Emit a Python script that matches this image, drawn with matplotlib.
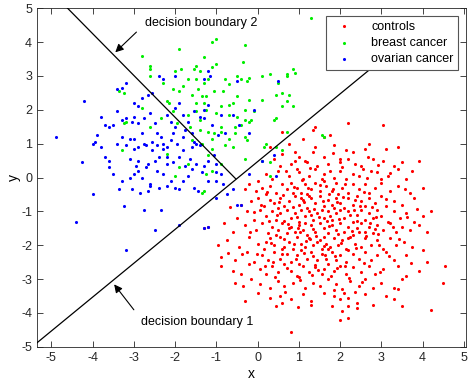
import matplotlib.pyplot as plt

plt.rcParams['font.family'] = ['Liberation Sans', 'DejaVu Sans']
plt.rcParams['font.size'] = 9
plt.rcParams['axes.unicode_minus'] = False

# points (x, y)
controls = [
    (2.2, 1.6), (3.05, 1.55), (1.4, 1.5), (1.35, 1.4), (1.75, 1.25), (0.6, 1.35), (1.1, 1.15), (1.6, 1.2),
    (2.7, 1.0), (2.6, 0.85), (2.15, 0.8), (2.0, 0.55), (1.4, 0.9), (1.35, 0.75), (0.75, 1.0), (0.9, 0.75),
    (0.6, 0.7), (3.1, 0.85), (3.4, 0.9), (2.3, 0.75), (1.85, 0.95), (0.3, 0.9),
    (0.9, 0.5), (1.15, 0.5), (1.2, 0.45), (1.6, 0.6), (1.7, 0.4), (2.0, 0.45), (2.2, 0.55), (2.5, 0.35),
    (2.8, 0.55), (3.05, 0.5), (3.5, 0.45), (3.9, 0.5), (0.55, 0.35), (0.8, 0.4), (1.45, 0.35), (2.35, 0.4),
    (3.3, 0.35), (2.05, 0.3), (1.0, 0.6), (0.4, 0.55),
    (0.2, 0.1), (0.5, 0.2), (0.75, 0.05), (1.0, 0.15), (1.25, 0.05), (1.4, 0.25), (1.6, 0.1), (1.85, 0.0),
    (2.0, 0.2), (2.3, 0.1), (2.55, 0.25), (2.65, 0.0), (2.9, 0.15), (3.15, 0.05), (3.4, 0.25), (3.75, 0.2),
    (3.6, -0.05), (1.1, -0.05), (0.95, 0.25), (1.55, -0.05), (2.15, -0.05), (2.45, 0.05), (2.75, 0.2),
    (3.0, -0.05), (1.75, 0.2), (4.0, -0.3), (0.0, -0.1), (-0.2, -0.2), (0.35, -0.05),
    (-0.3, -0.35), (-0.05, -0.4), (0.1, -0.3), (0.3, -0.25), (0.45, -0.45), (0.6, -0.2), (0.7, -0.35),
    (0.8, -0.15), (0.95, -0.3), (1.05, -0.45), (1.15, -0.2), (1.3, -0.35), (1.4, -0.15), (1.5, -0.4),
    (1.65, -0.25), (1.8, -0.4), (1.9, -0.15), (2.05, -0.3), (2.2, -0.45), (2.3, -0.2), (2.45, -0.35),
    (2.6, -0.2), (2.7, -0.45), (2.85, -0.3), (3.0, -0.15), (3.2, -0.4), (3.4, -0.25), (3.7, -0.45),
    (0.2, -0.5), (1.2, -0.5), (1.95, -0.5), (0.85, -0.45), (1.6, -0.1),
    (-0.4, -0.8), (-0.15, -0.7), (0.0, -0.6), (0.15, -0.85), (0.3, -0.65), (0.4, -0.75), (0.55, -0.6),
    (0.65, -0.85), (0.75, -0.7), (0.9, -0.55), (1.0, -0.8), (1.1, -0.65), (1.2, -0.9), (1.3, -0.6),
    (1.4, -0.75), (1.5, -0.55), (1.6, -0.85), (1.7, -0.65), (1.8, -0.8), (1.9, -0.6), (2.0, -0.75),
    (2.1, -0.9), (2.2, -0.6), (2.3, -0.8), (2.4, -0.55), (2.5, -0.7), (2.6, -0.85), (2.7, -0.6),
    (2.85, -0.75), (3.0, -0.55), (3.1, -0.85), (3.3, -0.7), (3.5, -0.8), (3.8, -0.6), (0.5, -0.9),
    (1.25, -0.55), (1.85, -0.9), (2.35, -0.65), (1.05, -0.6), (0.85, -0.88),
    (-0.5, -1.2), (-0.25, -1.0), (-0.1, -1.25), (0.05, -0.95), (0.2, -1.15), (0.35, -1.0), (0.45, -1.25),
    (0.55, -1.05), (0.7, -0.95), (0.8, -1.2), (0.9, -1.05), (1.0, -1.3), (1.05, -0.95), (1.15, -1.15),
    (1.25, -1.0), (1.35, -1.25), (1.45, -1.05), (1.55, -0.95), (1.6, -1.2), (1.7, -1.0), (1.8, -1.25),
    (1.9, -1.05), (2.0, -0.95), (2.1, -1.2), (2.2, -1.0), (2.3, -1.3), (2.4, -1.1), (2.5, -0.95),
    (2.6, -1.25), (2.7, -1.05), (2.8, -1.2), (2.9, -0.95), (3.0, -1.15), (3.15, -1.3), (3.3, -1.0),
    (3.45, -1.2), (3.6, -1.05), (3.8, -1.3), (4.2, -1.0), (4.0, -1.15), (0.65, -1.28), (1.75, -1.15),
    (2.25, -1.12), (1.3, -1.12), (0.95, -1.18),
    (-1.3, -1.5), (-1.2, -1.45), (-0.6, -1.6), (-0.3, -1.4), (-0.05, -1.55), (0.1, -1.35), (0.25, -1.65),
    (0.35, -1.45), (0.5, -1.55), (0.6, -1.35), (0.7, -1.65), (0.8, -1.45), (0.9, -1.6), (1.0, -1.4),
    (1.1, -1.55), (1.2, -1.7), (1.3, -1.4), (1.4, -1.6), (1.5, -1.35), (1.6, -1.5), (1.7, -1.65),
    (1.8, -1.4), (1.9, -1.55), (2.0, -1.35), (2.1, -1.6), (2.2, -1.45), (2.3, -1.7), (2.4, -1.5),
    (2.5, -1.35), (2.6, -1.6), (2.7, -1.45), (2.8, -1.65), (2.9, -1.4), (3.05, -1.55), (3.2, -1.35),
    (3.35, -1.6), (3.5, -1.45), (3.7, -1.55), (3.9, -1.4), (4.1, -1.6), (0.45, -1.7), (1.35, -1.52),
    (1.95, -1.68), (2.45, -1.62), (1.15, -1.35), (0.75, -1.5), (2.85, -1.52),
    (-0.95, -2.0), (-0.75, -1.85), (-0.45, -2.05), (-0.2, -1.75), (0.0, -1.95), (0.15, -2.1), (0.3, -1.8),
    (0.4, -2.0), (0.55, -1.75), (0.65, -2.05), (0.75, -1.9), (0.85, -2.1), (0.95, -1.75), (1.05, -1.95),
    (1.15, -2.05), (1.25, -1.8), (1.35, -2.0), (1.45, -1.9), (1.55, -2.1), (1.6, -1.75), (1.65, -1.95),
    (1.75, -2.05), (1.85, -1.8), (1.95, -2.0), (2.05, -1.85), (2.15, -2.1), (2.25, -1.75), (2.35, -1.95),
    (2.5, -2.05), (2.6, -1.8), (2.75, -2.0), (2.9, -1.85), (3.05, -2.1), (3.2, -1.8), (3.35, -2.0),
    (3.55, -1.9), (3.75, -2.05), (1.5, -1.85), (1.7, -2.1), (0.2, -1.9), (2.95, -2.0),
    (-0.9, -2.35), (-0.55, -2.45), (-0.25, -2.2), (-0.1, -2.5), (0.1, -2.3), (0.25, -2.45), (0.4, -2.2),
    (0.55, -2.4), (0.7, -2.25), (0.8, -2.5), (0.95, -2.3), (1.05, -2.15), (1.2, -2.4), (1.3, -2.2),
    (1.45, -2.45), (1.55, -2.25), (1.65, -2.4), (1.8, -2.2), (1.9, -2.45), (2.0, -2.3), (2.15, -2.5),
    (2.3, -2.25), (2.45, -2.4), (2.6, -2.2), (2.75, -2.45), (2.9, -2.3), (3.1, -2.2), (3.3, -2.45),
    (3.6, -2.3), (4.0, -2.15), (1.35, -2.32), (0.6, -2.12), (2.2, -2.15),
    (-0.9, -2.6), (-0.6, -2.75), (-0.4, -2.85), (-0.2, -2.55), (0.05, -2.7), (0.2, -2.85), (0.35, -2.6),
    (0.5, -2.8), (0.65, -2.55), (0.8, -2.75), (0.95, -2.9), (1.1, -2.6), (1.25, -2.8), (1.4, -2.65),
    (1.55, -2.85), (1.7, -2.55), (1.85, -2.75), (2.0, -2.6), (2.15, -2.85), (2.3, -2.65), (2.5, -2.8),
    (2.7, -2.6), (2.85, -2.85), (3.05, -2.7), (3.4, -2.6), (3.6, -2.9), (3.9, -2.75), (4.55, -2.6),
    (4.1, -2.5), (1.0, -2.55), (1.6, -2.7),
    (-0.55, -3.1), (-0.35, -3.2), (-0.15, -3.0), (0.05, -3.15), (0.3, -3.25), (0.5, -3.05), (0.65, -3.2),
    (0.85, -3.1), (1.0, -2.95), (1.15, -3.25), (1.35, -3.1), (1.5, -3.2), (1.7, -3.0), (1.9, -3.15),
    (2.05, -3.3), (2.25, -3.05), (2.45, -3.2), (2.6, -3.0), (2.8, -3.25), (3.0, -3.1), (3.3, -3.25),
    (4.5, -3.1), (3.5, -3.0),
    (-0.3, -3.65), (0.0, -3.4), (0.3, -3.55), (0.55, -3.5), (0.8, -3.6), (1.1, -3.45), (1.3, -3.65),
    (1.6, -3.4), (1.85, -3.5), (2.0, -3.6), (2.1, -3.4), (2.2, -3.55), (2.4, -3.7), (2.6, -3.45),
    (3.1, -3.5), (3.4, -3.3), (3.3, -3.6), (0.45, -3.8), (0.6, -3.7),
    (1.8, -3.8), (2.05, -3.95), (2.2, -3.8), (2.4, -3.85), (2.8, -3.75), (3.5, -3.8), (4.2, -3.9),
    (1.3, -3.75), (2.0, -4.2), (2.2, -4.15), (0.8, -4.55),
    # denser core
    (0.62, -0.52), (0.88, -0.28), (1.12, -0.72), (1.37, -0.93), (1.58, -0.68), (1.83, -0.33),
    (2.07, -0.58), (2.33, -0.97), (2.57, -0.42), (2.78, -0.88), (0.47, -1.12), (0.73, -1.37),
    (1.02, -1.62), (1.27, -1.83), (1.48, -1.17), (1.73, -1.43), (1.97, -1.22), (2.18, -1.78),
    (2.42, -1.28), (2.63, -1.73), (2.88, -1.18), (0.33, -1.93), (0.58, -2.27), (0.87, -1.97),
    (1.13, -2.23), (1.38, -2.58), (1.62, -2.03), (1.88, -2.33), (2.12, -2.62), (2.38, -2.08),
    (2.58, -2.52), (0.18, -2.62), (0.42, -2.93), (0.72, -2.68), (1.03, -3.02), (1.32, -2.88),
    (1.78, -2.92), (2.22, -2.97), (2.52, -3.08), (0.08, -0.82), (0.27, -1.28), (-0.18, -1.62),
    (-0.38, -2.27), (3.12, -0.62), (3.27, -1.47), (3.18, -2.33), (2.97, -2.78), (3.42, -1.83),
    (1.52, -0.22), (1.93, -0.72), (1.68, -1.27), (1.42, -1.72), (1.18, -1.88), (0.98, -1.48),
    (1.63, -2.28), (1.92, -2.67), (2.28, -1.58), (2.02, -1.92), (1.22, -0.32), (0.52, -0.72),
    (0.22, -0.43), (-0.08, -1.02), (0.63, -1.83), (0.38, -2.48), (0.92, -2.42), (1.72, -0.48),
    (2.12, -0.18), (2.48, -0.83), (2.72, -1.33), (2.93, -1.67), (1.08, -0.08), (1.47, -2.72),
    (1.85, -3.32), (2.37, -3.38), (0.67, -3.38), (0.97, -3.82), (3.62, -1.17), (3.72, -2.52),
    (3.87, -0.92), (-0.68, -0.88), (-0.82, -1.33), (-0.72, -2.23), (-0.02, -2.27), (2.67, 0.62),
    (1.83, 0.72), (1.28, 0.28), (0.68, 0.18), (2.92, 0.38), (3.22, 0.12), (3.58, -0.33),
]

breast = [
    (1.3, 4.7), (-1.0, 4.1), (-1.1, 4.0), (-0.3, 3.9), (-1.9, 3.8), (-2.8, 3.6), (-1.3, 3.55), (-0.35, 3.4),
    (-2.6, 3.3), (-1.5, 3.3), (-1.55, 3.2), (-2.0, 3.15), (-1.85, 3.2), (-1.1, 3.25), (-1.4, 3.15),
    (-1.0, 3.35), (-2.6, 3.2), (0.85, 3.2), (0.9, 3.1), (0.7, 3.05), (0.7, 3.0), (0.3, 3.05), (0.1, 3.0),
    (-0.2, 2.95), (-0.4, 2.9), (-0.5, 3.0),
    (-2.6, 3.0), (-2.3, 2.8), (-1.7, 2.9), (-1.2, 2.9), (-1.5, 2.9), (-1.3, 2.8), (-0.8, 2.9), (-0.7, 2.75),
    (-0.25, 2.85), (0.5, 2.8), (0.6, 2.5), (0.75, 2.45), (0.45, 2.45), (0.1, 2.3),
    (-3.25, 2.5), (-3.35, 2.55), (-2.05, 2.6), (-1.9, 2.55), (-1.8, 2.7), (-1.45, 2.6), (-1.35, 2.4),
    (-1.05, 2.55), (-0.85, 2.55), (-0.5, 2.4), (-0.2, 2.3), (-1.6, 2.45), (-1.25, 2.4), (-1.3, 2.2),
    (-1.5, 2.2), (-2.2, 2.25), (-2.15, 2.2), (-0.6, 2.2), (-0.7, 2.15), (0.7, 2.25), (0.85, 2.1),
    (0.6, 2.1), (-0.3, 2.0), (-0.1, 1.95), (-0.9, 2.1), (-1.0, 1.9), (-1.25, 2.0), (-1.5, 1.95),
    (-1.7, 1.85), (-2.05, 1.95), (-2.8, 2.05), (-3.2, 1.65), (-3.25, 1.6), (-2.35, 1.75), (-1.95, 1.6),
    (-1.4, 1.7), (-0.7, 1.85), (-0.5, 1.8), (-0.3, 1.7), (-0.15, 1.7), (-0.2, 1.65), (-0.4, 1.55),
    (-0.55, 1.5), (0.4, 1.7), (0.45, 1.75), (-0.9, 1.5), (-1.2, 1.35), (-1.4, 1.4), (-1.65, 1.5),
    (-2.6, 1.5), (-0.55, 1.3), (-0.9, 1.35), (-1.05, 1.3), (-1.1, 1.15), (-0.7, 1.15), (-0.3, 1.2),
    (-0.25, 1.1), (-1.35, 1.0), (-1.6, 1.1), (-0.8, 0.95), (-0.6, 0.9), (0.2, 1.0), (0.15, 0.9),
    (-1.1, 0.85), (-1.2, 0.65), (-2.2, 0.7), (-3.3, 0.8), (-0.3, 0.55), (0.1, 0.5), (0.3, 0.45),
    (0.6, 0.8), (-0.9, 0.4), (-1.1, 0.2), (-1.25, 0.1), (-2.0, 0.05), (-1.9, 0.3), (-1.7, 0.4),
    (-1.3, -0.4), (-1.35, -0.45), (0.3, 0.05), (1.6, 1.2), (1.55, 1.25), (0.7, 1.35), (0.45, 0.9),
]

ovarian = [
    (-4.9, 1.2), (-4.2, 2.25), (-4.25, 0.45), (-4.4, -1.3), (-4.0, -0.5), (-3.2, -2.15), (-2.5, -1.55),
    (-2.35, -0.95), (-2.75, -0.95), (-3.25, -0.85), (-1.9, -1.4), (-1.0, -0.6), (-0.5, -0.8), (-1.3, -1.5),
    (-1.2, -1.45),
    (-3.9, 1.25), (-4.0, 1.0), (-3.95, 1.05), (-3.8, 1.8), (-3.7, 1.55), (-3.6, 1.5), (-3.5, 1.55),
    (-3.4, 1.95), (-3.4, 2.6), (-3.3, 2.65), (-3.2, 2.8), (-3.0, 2.2), (-2.9, 2.1), (-2.8, 2.35),
    (-2.65, 2.45), (-2.55, 2.5), (-2.4, 3.0), (-2.3, 2.9), (-2.0, 3.0), (-0.5, 2.85), (-0.1, 2.0),
    (-3.8, 0.9), (-3.7, 0.6), (-3.6, 0.5), (-3.6, 0.3), (-3.5, 0.1), (-3.4, 1.0), (-3.3, 1.2),
    (-3.2, 0.95), (-3.1, 1.15), (-3.0, 1.15), (-3.0, 0.85), (-2.9, 0.5), (-2.95, 0.35), (-2.9, 0.2),
    (-3.0, 0.1), (-3.1, 0.0), (-3.3, -0.1), (-3.35, -0.35), (-3.05, -0.35), (-2.85, -0.45), (-2.65, -0.4),
    (-2.6, -0.25), (-2.6, -0.2), (-2.8, 0.0), (-2.7, 0.3), (-2.65, 0.4), (-2.55, 0.8), (-2.7, 0.95),
    (-2.75, 1.0), (-2.8, 1.3), (-2.9, 1.6), (-3.05, 1.65), (-3.0, 1.8), (-3.2, 1.75), (-3.3, 1.7),
    (-2.75, 1.75), (-2.6, 1.9), (-2.5, 1.6), (-2.45, 1.3), (-2.35, 1.2), (-2.3, 1.0), (-2.3, 0.85),
    (-2.2, 0.9), (-2.1, 1.1), (-2.05, 1.3), (-2.0, 1.5), (-2.1, 1.65), (-2.2, 1.85), (-2.0, 2.05),
    (-1.9, 2.2), (-1.8, 1.85), (-1.7, 1.65), (-1.75, 1.4), (-1.6, 1.3), (-1.55, 1.05), (-1.5, 1.0),
    (-1.4, 0.95), (-1.6, 0.9), (-1.8, 0.8), (-1.9, 0.6), (-2.05, 0.45), (-2.2, 0.4), (-2.4, 0.6),
    (-2.5, 0.5), (-2.45, 0.2), (-2.3, 0.1), (-2.1, -0.1), (-2.2, -0.25), (-2.4, -0.3), (-2.0, -0.3),
    (-1.9, -0.35), (-1.8, -0.1), (-1.7, 0.05), (-1.6, 0.25), (-1.5, 0.4), (-1.3, 0.35), (-1.2, 0.5),
    (-1.0, 0.4), (-1.0, 0.15), (-0.9, 0.1), (-0.85, -0.2), (-0.6, -0.35), (-0.75, -0.5), (-1.55, -0.3),
    (-1.45, -0.4), (-1.2, -0.1), (-1.05, 0.65), (-0.95, 1.25), (-1.1, 1.55), (-1.3, 1.75), (-1.4, 1.8),
    (-1.55, 1.95), (-1.3, 2.0), (-1.2, 2.15), (-0.9, 1.85), (-0.6, 1.85), (-0.45, 1.55), (-0.8, 1.3),
    (-0.2, 1.3), (-1.3, 2.9), (-1.15, 3.0), (-1.2, 3.15), (0.5, 2.85), (0.4, 0.65), (0.45, 0.05),
    (0.1, 0.5), (-0.4, -0.8), (-0.2, 0.1), (-1.0, -0.1), (-1.35, 0.15), (-2.9, 0.9), (-3.1, 0.55),
    (-1.95, 1.0), (-1.8, 1.2), (-2.55, 1.05), (-2.45, 0.95), (-2.2, 0.6), (-1.65, 0.55), (-1.75, 0.35),
]

# decision boundaries (end points)
boundary1_x = [-5.35, 4.2]
boundary1_y = [-4.88, 4.67]
boundary2_x = [-4.61, -0.53]
boundary2_y = [5.0, -0.04]

fig = plt.figure(figsize=(4.74, 3.88), dpi=100)
ax = fig.add_axes([0.078, 0.106, 0.905, 0.873])

groups = [(controls, '#ff0000', 'controls'),
          (breast, '#00ee00', 'breast cancer'),
          (ovarian, '#0000ff', 'ovarian cancer')]
for pts, col, lab in groups:
    xs = [p[0] for p in pts]
    ys = [p[1] for p in pts]
    ax.scatter(xs, ys, s=5, c=col, linewidths=0, label=lab, zorder=2)

ax.plot(boundary1_x, boundary1_y, color='black', lw=0.9, zorder=3)
ax.plot(boundary2_x, boundary2_y, color='black', lw=0.9, zorder=3)

arrow = dict(arrowstyle='-|>', color='black', lw=0.8, mutation_scale=12)
ax.annotate('', xy=(-3.5, 3.64), xytext=(-2.89, 4.35), arrowprops=arrow, zorder=4)
ax.text(-2.74, 4.56, 'decision boundary 2', fontsize=9, va='center', ha='left')
ax.annotate('', xy=(-3.52, -3.09), xytext=(-2.96, -3.97), arrowprops=arrow, zorder=4)
ax.text(-2.84, -4.27, 'decision boundary 1', fontsize=9, va='center', ha='left')

ax.set_xlim(-5.35, 5.05)
ax.set_ylim(-5, 5)
ax.set_xticks(range(-5, 6))
ax.set_yticks(range(-5, 6))
ax.tick_params(direction='in', top=True, right=True, length=4, width=0.6, labelsize=9,
               colors='#262626')
for sp in ax.spines.values():
    sp.set_linewidth(0.6)
    sp.set_color('#262626')
ax.set_xlabel('x', fontsize=10, labelpad=2)
ax.set_ylabel('y', fontsize=10, labelpad=0)

leg = ax.legend(loc='upper right', markerscale=1.0, fontsize=9, fancybox=False,
                edgecolor='#555555', framealpha=1, borderaxespad=0.6,
                handletextpad=1.2, labelspacing=0.35, borderpad=0.4)
leg.set_zorder(5)
leg.get_frame().set_linewidth(0.8)

fig.savefig('out.png', dpi=100)
